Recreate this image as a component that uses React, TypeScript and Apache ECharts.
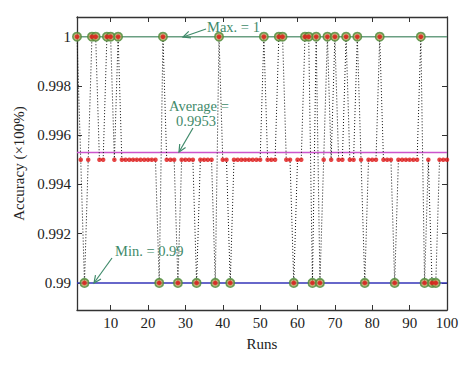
import React, { useEffect, useRef } from "react";
import * as echarts from "echarts";

const runs: number[] = Array.from({ length: 100 }, (_, i) => i + 1);
const accuracy: number[] = [
  1, 0.995, 0.99, 0.995, 1, 1, 0.995, 0.995, 1, 1,
  0.995, 1, 0.995, 0.995, 0.995, 0.995, 0.995, 0.995, 0.995, 0.995,
  0.995, 0.995, 0.99, 1, 0.995, 0.995, 0.995, 0.99, 0.995, 0.995,
  0.995, 0.995, 0.99, 0.995, 0.995, 0.995, 0.995, 0.99, 1, 0.995,
  0.995, 0.99, 0.995, 0.995, 0.995, 0.995, 0.995, 0.995, 0.995, 0.995,
  1, 0.995, 0.995, 0.995, 1, 1, 0.995, 0.995, 0.99, 0.995,
  0.995, 1, 1, 0.99, 1, 0.99, 0.995, 1, 0.995, 1,
  0.995, 0.995, 1, 0.995, 0.995, 1, 0.995, 0.99, 0.995, 0.995,
  0.995, 1, 0.995, 0.995, 0.995, 0.99, 0.995, 0.995, 0.995, 0.995,
  0.995, 0.995, 1, 0.99, 0.995, 0.99, 0.99, 0.995, 0.995, 0.995,
];
const xTicks: number[] = [10, 20, 30, 40, 50, 60, 70, 80, 90, 100];
const yTicks: number[] = [0.99, 0.992, 0.994, 0.996, 0.998, 1];
const labelMax = "Max. = 1";
const labelAvg1 = "Average =";
const labelAvg2 = "0.9953";
const labelMin = "Min. = 0.99";

const FONT = '"Liberation Serif", "DejaVu Serif", serif';
const ANN = "#3f8a6a";

function arrow(x1: number, y1: number, x2: number, y2: number): any[] {
  const ang = Math.atan2(y2 - y1, x2 - x1);
  const L = 8;
  const a = (25 * Math.PI) / 180;
  const p1 = [x2 - L * Math.cos(ang - a), y2 - L * Math.sin(ang - a)];
  const p2 = [x2 - L * Math.cos(ang + a), y2 - L * Math.sin(ang + a)];
  return [
    { type: "line", shape: { x1, y1, x2, y2 }, style: { stroke: ANN, lineWidth: 1.2 }, z: 100 },
    { type: "polyline", shape: { points: [p1, [x2, y2], p2] }, style: { stroke: ANN, lineWidth: 1.2, fill: null }, z: 100 },
  ];
}

export default function App() {
  const ref = useRef<HTMLDivElement>(null);
  useEffect(() => {
    if (!ref.current) return;
    const chart = echarts.init(ref.current, null, { renderer: "svg" });
    const maxVal = Math.max(...accuracy);
    const minVal = Math.min(...accuracy);
    const avg = accuracy.reduce((s, v) => s + v, 0) / accuracy.length;
    const pts = runs.map((r, i) => [r, accuracy[i]]);
    const extremes = pts.filter((p) => p[1] === maxVal || p[1] === minVal);
    const xMin = runs[0];
    const xMax = runs[runs.length - 1];
    const axisLine = { show: true, lineStyle: { color: "#333", width: 1.3 } };
    const tickStyle = { lineStyle: { color: "#333", width: 1 } };
    const texts = [
      { type: "text", x: 207, y: 27, style: { text: labelMax, font: `14.5px ${FONT}`, fill: ANN, verticalAlign: "middle" }, z: 100 },
      { type: "text", x: 169, y: 106, style: { text: labelAvg1, font: `14.5px ${FONT}`, fill: ANN, verticalAlign: "middle" }, z: 100 },
      { type: "text", x: 176, y: 121, style: { text: labelAvg2, font: `14.5px ${FONT}`, fill: ANN, verticalAlign: "middle" }, z: 100 },
      { type: "text", x: 115, y: 251, style: { text: labelMin, font: `14.5px ${FONT}`, fill: ANN, verticalAlign: "middle" }, z: 100 },
    ];
    chart.setOption({
      animation: false,
      backgroundColor: "#fff",
      grid: { left: 77, top: 17, width: 370, height: 293, containLabel: false },
      xAxis: [
        {
          type: "value", min: xMin, max: xMax, position: "bottom",
          axisLine, splitLine: { show: false },
          axisTick: { show: true, inside: true, length: 5, customValues: xTicks, ...tickStyle },
          axisLabel: { customValues: xTicks, fontFamily: FONT, fontSize: 15, color: "#222", margin: 5 },
          name: "Runs", nameLocation: "middle", nameGap: 26,
          nameTextStyle: { fontFamily: FONT, fontSize: 15, color: "#222" },
        },
        {
          type: "value", min: xMin, max: xMax, position: "top",
          axisLine, splitLine: { show: false },
          axisTick: { show: true, inside: true, length: 5, customValues: xTicks, ...tickStyle },
          axisLabel: { show: false },
        },
      ],
      yAxis: [
        {
          type: "value", min: 0.9889, max: 1.0008, position: "left",
          axisLine, splitLine: { show: false },
          axisTick: { show: true, inside: true, length: 5, customValues: yTicks, ...tickStyle },
          axisLabel: {
            customValues: yTicks, fontFamily: FONT, fontSize: 15, color: "#222", margin: 6,
            formatter: (v: number) => String(parseFloat(v.toFixed(3))),
          },
          name: "Accuracy (×100%)", nameLocation: "middle", nameGap: 48,
          nameTextStyle: { fontFamily: FONT, fontSize: 15, color: "#222" },
        },
        {
          type: "value", min: 0.9889, max: 1.0008, position: "right",
          axisLine, splitLine: { show: false },
          axisTick: { show: true, inside: true, length: 5, customValues: yTicks, ...tickStyle },
          axisLabel: { show: false },
        },
      ],
      series: [
        {
          type: "line", data: [[xMin, maxVal], [xMax, maxVal]], symbol: "none",
          lineStyle: { color: "#6a9f82", width: 1.5 }, z: 1, silent: true,
        },
        {
          type: "line", data: [[xMin, avg], [xMax, avg]], symbol: "none",
          lineStyle: { color: "#cc55cc", width: 1.5 }, z: 1, silent: true,
        },
        {
          type: "line", data: [[xMin, minVal], [xMax, minVal]], symbol: "none",
          lineStyle: { color: "#3535b8", width: 1.5 }, z: 1, silent: true,
        },
        {
          type: "line", data: pts, symbol: "none",
          lineStyle: { color: "#111", width: 1, type: [1, 2] }, z: 2, silent: true,
        },
        {
          type: "scatter", data: extremes, symbol: "circle", symbolSize: 8.5,
          itemStyle: { color: "#b59a58", borderColor: "#4a8c3a", borderWidth: 1.5 }, z: 3,
        },
        {
          type: "scatter", data: pts, symbol: "circle", symbolSize: 4.5,
          itemStyle: { color: "#e01818" }, z: 4,
        },
      ],
      graphic: [
        ...texts,
        ...arrow(206, 29, 183, 37),
        ...arrow(193, 128, 179, 152),
        ...arrow(112, 258, 94, 283),
      ],
    });
    return () => chart.dispose();
  }, []);
  return <div ref={ref} style={{ position: "fixed", left: 0, top: 0, width: 474, height: 365 }} />;
}
